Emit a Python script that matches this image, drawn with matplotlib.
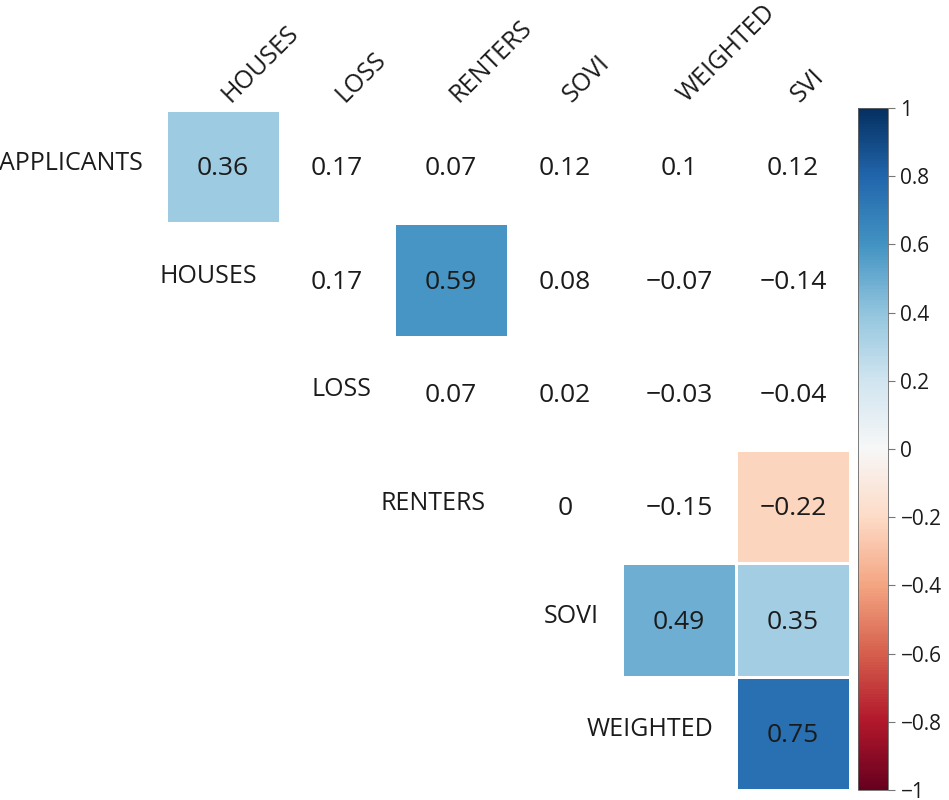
import numpy as np
import matplotlib
matplotlib.use("Agg")
import matplotlib.pyplot as plt

plt.rcParams["font.family"] = ["Open Sans", "DejaVu Sans"]

# column / row variables of the upper-triangle correlation matrix
col_names = ["HOUSES", "LOSS", "RENTERS", "SOVI", "WEIGHTED", "SVI"]
row_names = ["APPLICANTS", "HOUSES", "LOSS", "RENTERS", "SOVI", "WEIGHTED"]

# correlation values, row by row (None = lower triangle, not shown)
r_applicants = [0.36, 0.17, 0.07, 0.12, 0.10, 0.12]
r_houses = [None, 0.17, 0.59, 0.08, -0.07, -0.14]
r_loss = [None, None, 0.07, 0.02, -0.03, -0.04]
r_renters = [None, None, None, 0.00, -0.15, -0.22]
r_sovi = [None, None, None, None, 0.49, 0.35]
r_weighted = [None, None, None, None, None, 0.75]

# significant cells (coloured), the rest are only printed
s_applicants = [1, 0, 0, 0, 0, 0]
s_houses = [0, 0, 1, 0, 0, 0]
s_loss = [0, 0, 0, 0, 0, 0]
s_renters = [0, 0, 0, 0, 0, 1]
s_sovi = [0, 0, 0, 0, 1, 1]
s_weighted = [0, 0, 0, 0, 0, 1]

rows = [r_applicants, r_houses, r_loss, r_renters, r_sovi, r_weighted]
sig = [s_applicants, s_houses, s_loss, s_renters, s_sovi, s_weighted]

cbar_ticks = [1, 0.8, 0.6, 0.4, 0.2, 0, -0.2, -0.4, -0.6, -0.8, -1]

vals = np.array([[np.nan if v is None else v for v in r] for r in rows])
mask = np.array(sig) == 0
shown = np.ma.masked_array(vals, mask=mask | np.isnan(vals))

fig = plt.figure(figsize=(9.49, 8.0), dpi=100)
ax = fig.add_axes([166 / 949, 10 / 800, 684 / 949, 680 / 800])

cmap = plt.get_cmap("RdBu")
x_edges = np.arange(len(col_names) + 1) - 0.5
y_edges = np.arange(len(row_names) + 1) - 0.5
mesh = ax.pcolormesh(x_edges, y_edges, shown, cmap=cmap, vmin=-1, vmax=1,
                     edgecolors="white", linewidth=1.0)
ax.set_xlim(-0.5, len(col_names) - 0.5)
ax.set_ylim(len(row_names) - 0.5, -0.5)
ax.axis("off")

txt_color = "#1b1b1b"

# values
for i, r in enumerate(rows):
    for j, v in enumerate(r):
        if v is None:
            continue
        if v == 0:
            label = "0"
        else:
            label = ("%.2f" % abs(v)).rstrip("0")
            if v < 0:
                label = "\u2212" + label
        ax.text(j, i + 0.02, label, ha="center", va="center", fontsize=19,
                color=txt_color, clip_on=False)

# row labels on the diagonal
for i, name in enumerate(row_names):
    ax.text(i - 1 + 0.3, i - 0.03, name, ha="right", va="center", fontsize=18,
            color=txt_color, clip_on=False)

# column labels on top, rotated
for j, name in enumerate(col_names):
    ax.text(j + 0.1, -0.52, name, ha="left", va="bottom", rotation=45,
            rotation_mode="anchor", fontsize=18, color=txt_color, clip_on=False)

# colour bar
cax = fig.add_axes([858 / 949, 10 / 800, 30 / 949, 682 / 800])
cb = fig.colorbar(mesh, cax=cax, ticks=cbar_ticks)
cb.ax.set_yticklabels([("%g" % t).replace("-", "\u2212") for t in cbar_ticks])
cb.ax.tick_params(labelsize=15, length=5, width=0.8, color="#777777",
                  labelcolor=txt_color, pad=4)
cb.outline.set_linewidth(0.6)
cb.outline.set_edgecolor("#666666")

fig.savefig("out.png", dpi=100, facecolor="white")
